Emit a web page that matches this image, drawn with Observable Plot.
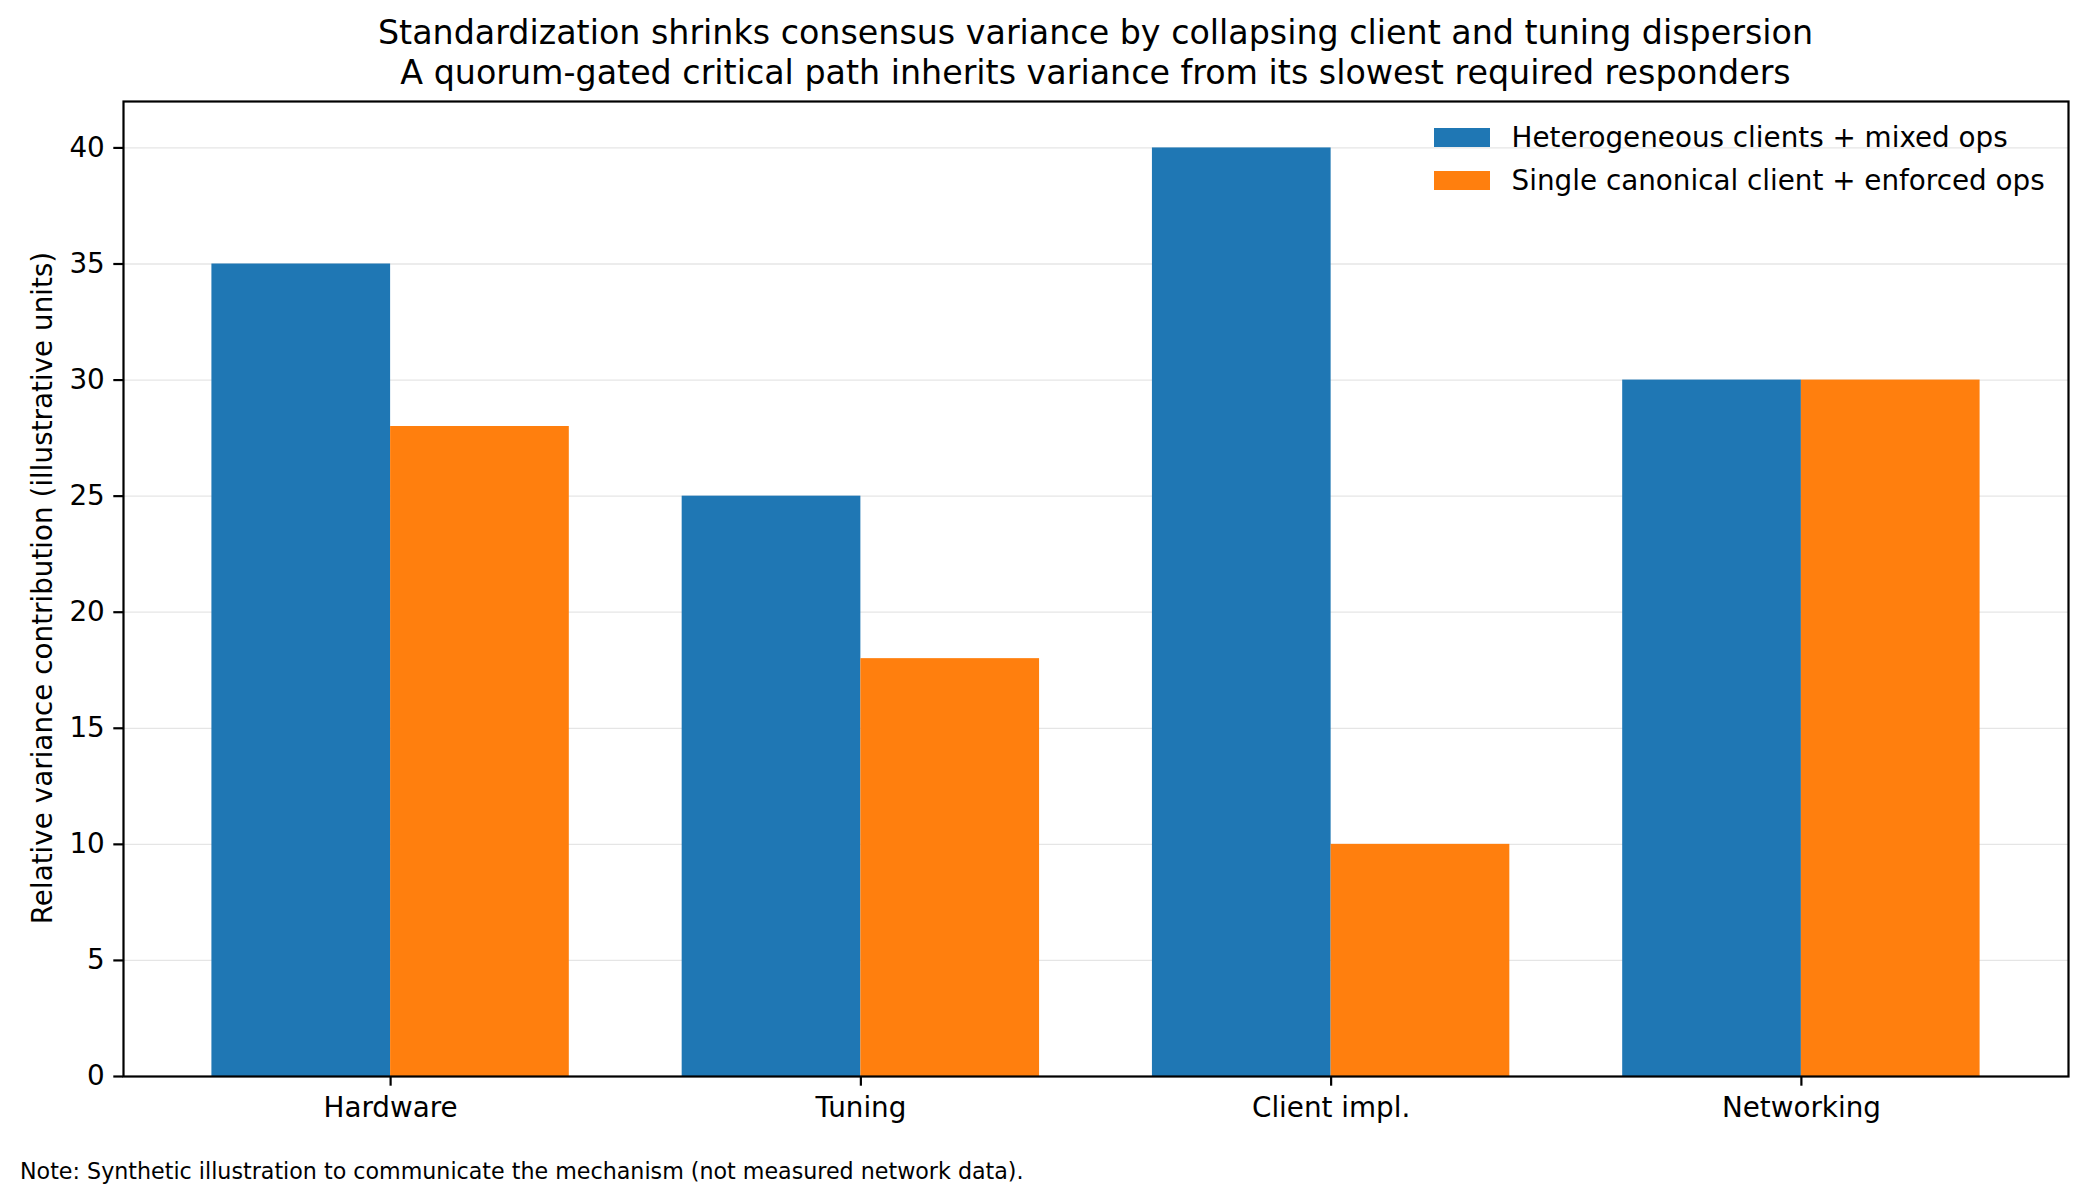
<!DOCTYPE html>
<html>
<head>
<meta charset="utf-8">
<script src="https://cdn.jsdelivr.net/npm/d3@7"></script>
<script src="https://cdn.jsdelivr.net/npm/@observablehq/plot@0.6"></script>
<style>
  html, body { margin: 0; padding: 0; background: #fff; }
  #wrap { position: relative; width: 2088px; height: 1202px; font-family: "DejaVu Sans", sans-serif; color: #000; overflow: hidden; }
  #wrap svg { position: absolute; left: 0; top: 0; }
  .title { position: absolute; left: 123px; width: 1945px; text-align: center; font-size: 33.3px; white-space: nowrap; line-height: 1; }
  .ylab { position: absolute; font-size: 27.8px; white-space: nowrap; transform: translate(-50%, -50%) rotate(-90deg); line-height: 1; }
  .legend { position: absolute; left: 1434px; top: 116px; font-size: 27.8px; line-height: 1; }
  .legend .row { display: flex; align-items: center; height: 43px; white-space: nowrap; }
  .legend .sw { width: 55.6px; height: 19.4px; margin-right: 22px; }
  .note { position: absolute; left: 20px; top: 1160px; font-size: 22.2px; white-space: nowrap; line-height: 1; }
</style>
</head>
<body>
<div id="wrap"></div>
<script>
const categories = ["Hardware", "Tuning", "Client impl.", "Networking"];
const heterogeneous = [35, 25, 40, 30];
const canonical = [28, 18, 10, 30];
const seriesNames = ["Heterogeneous clients + mixed ops", "Single canonical client + enforced ops"];
const seriesColors = ["#1f77b4", "#ff7f0e"];
const yTicks = [0, 5, 10, 15, 20, 25, 30, 35, 40];
const titleLines = [
  "Standardization shrinks consensus variance by collapsing client and tuning dispersion",
  "A quorum-gated critical path inherits variance from its slowest required responders"
];
const yLabel = "Relative variance contribution (illustrative units)";
const note = "Note: Synthetic illustration to communicate the mechanism (not measured network data).";

const barW = 0.38;
const rows = [];
categories.forEach((c, i) => {
  rows.push({i, s: 0, v: heterogeneous[i]});
  rows.push({i, s: 1, v: canonical[i]});
});

const chart = Plot.plot({
  width: 2088,
  height: 1202,
  marginTop: 101,
  marginBottom: 126,
  marginLeft: 123,
  marginRight: 20,
  style: {fontFamily: "DejaVu Sans, sans-serif", fontSize: "27.8px", color: "#000", background: "#fff"},
  x: {type: "linear", domain: [-0.568, 3.568]},
  y: {domain: [0, 42]},
  marks: [
    Plot.gridY(yTicks, {stroke: "#000", strokeOpacity: 0.1, strokeWidth: 1.3}),
    Plot.rectY(rows, {
      x1: d => d.i + (d.s === 0 ? -barW : 0),
      x2: d => d.i + (d.s === 0 ? 0 : barW),
      y: "v",
      fill: d => seriesColors[d.s],
      inset: 0
    }),
    Plot.axisX({ticks: [0, 1, 2, 3], tickFormat: i => categories[i], tickSize: 9.7, tickPadding: 11, strokeWidth: 2.2, fontSize: 27.8, label: null}),
    Plot.axisY({ticks: yTicks, tickSize: 9.7, tickPadding: 9, strokeWidth: 2.2, fontSize: 27.8, label: null}),
    Plot.frame({stroke: "#000", strokeWidth: 2.2})
  ]
});

const wrap = document.getElementById("wrap");
wrap.appendChild(chart);

titleLines.forEach((t, k) => {
  const d = document.createElement("div");
  d.className = "title";
  d.style.top = (16 + k * 40) + "px";
  d.textContent = t;
  wrap.appendChild(d);
});

const yl = document.createElement("div");
yl.className = "ylab";
yl.style.left = "43px";
yl.style.top = "588px";
yl.textContent = yLabel;
wrap.appendChild(yl);

const lg = document.createElement("div");
lg.className = "legend";
seriesNames.forEach((n, k) => {
  const r = document.createElement("div");
  r.className = "row";
  const sw = document.createElement("div");
  sw.className = "sw";
  sw.style.background = seriesColors[k];
  const tx = document.createElement("span");
  tx.textContent = n;
  r.appendChild(sw);
  r.appendChild(tx);
  lg.appendChild(r);
});
wrap.appendChild(lg);

const nt = document.createElement("div");
nt.className = "note";
nt.textContent = note;
wrap.appendChild(nt);
</script>
</body>
</html>
